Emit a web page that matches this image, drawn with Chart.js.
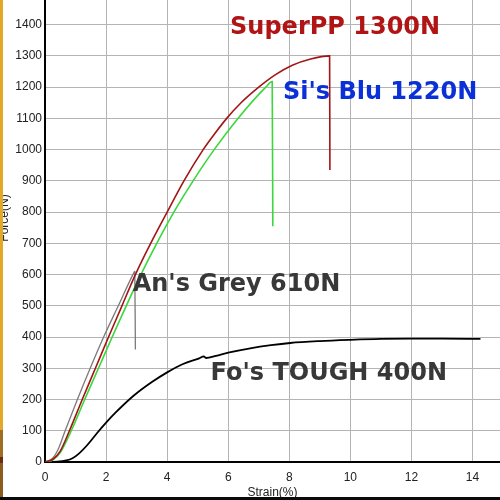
<!doctype html>
<html lang="en">
<head>
<meta charset="utf-8">
<title>Force vs Strain</title>
<script src="https://cdn.jsdelivr.net/npm/chart.js@4.4.0/dist/chart.umd.min.js"></script>
<style>
  html, body { margin: 0; padding: 0; background: #fff; overflow: hidden; }
</style>
</head>
<body>
<canvas id="chart" width="500" height="500"></canvas>
<script>
// curves: strain in %, force in N
var superStrain = [0, 0.25, 0.5, 0.8, 1.22, 1.65, 2.08, 2.52, 2.96, 3.46, 4.0, 4.55, 5.18, 5.55, 5.95, 6.42, 7.0, 7.55, 8.1, 8.7, 9.32, 9.33];
var superForce  = [0, 8, 35, 100, 200, 300, 400, 500, 600, 700, 800, 900, 1000, 1050, 1100, 1150, 1200, 1240, 1270, 1290, 1300, 935];

var bluStrain = [0, 0.25, 0.5, 0.86, 1.3, 1.75, 2.2, 2.66, 3.14, 3.66, 4.22, 4.85, 5.54, 6.32, 7.23, 7.44, 7.46];
var bluForce  = [0, 6, 30, 100, 200, 300, 400, 500, 600, 700, 800, 900, 1000, 1100, 1200, 1218, 755];

var greyStrain = [0, 0.25, 0.45, 0.66, 1.06, 1.48, 1.92, 2.4, 2.88, 2.94, 2.96];
var greyForce  = [0, 12, 45, 100, 200, 300, 400, 500, 600, 610, 360];

var toughStrain = [0, 0.4, 0.7, 0.9, 1.1, 1.4, 1.7, 2.0, 2.3, 2.9, 3.5, 4.0, 4.5, 5.05, 5.2, 5.27, 5.6, 6.0, 6.72, 7.4, 8.03, 9, 10, 11, 12, 13, 14.26];
var toughForce  = [0, 1, 5, 12, 26, 56, 92, 126, 157, 212, 256, 287, 313, 332, 338, 333, 340, 350, 364, 374, 381, 387, 391, 394, 395, 395, 394];

var strainTicks = [0, 2, 4, 6, 8, 10, 12, 14];
var forceTicks = [0, 100, 200, 300, 400, 500, 600, 700, 800, 900, 1000, 1100, 1200, 1300, 1400];

var curveNames = ["SuperPP 1300N", "Si's Blu 1220N", "An's Grey 610N", "Fo's TOUGH 400N"];
var nameColors = ['#b01414', '#0b2fd8', '#383838', '#383838'];
// where each name sits, in strain / force units (left edge, middle)
var nameAt = [[6.06, 1390], [7.79, 1182], [2.87, 567], [5.42, 284]];

function pts(xs, ys) {
    var out = [];
    for (var i = 0; i < xs.length; i++) out.push({ x: xs[i], y: ys[i] });
    return out;
}

function curve(xs, ys, color, w) {
    return {
        data: pts(xs, ys),
        borderColor: color,
        borderWidth: w,
        pointRadius: 0,
        fill: false,
        cubicInterpolationMode: 'monotone'
    };
}

// frame bits of the photo plus the axis title and the curve names
var extras = {
    id: 'extras',
    afterDatasetsDraw: function (chart) {
        var ctx = chart.ctx;
        var sx = chart.scales.x, sy = chart.scales.y;
        ctx.save();
        ctx.font = 'bold 24px "DejaVu Sans"';
        ctx.textAlign = 'left';
        ctx.textBaseline = 'middle';
        for (var i = 0; i < curveNames.length; i++) {
            ctx.fillStyle = nameColors[i];
            ctx.fillText(curveNames[i], sx.getPixelForValue(nameAt[i][0]), sy.getPixelForValue(nameAt[i][1]));
        }
        ctx.restore();
    },
    afterDraw: function (chart) {
        var ctx = chart.ctx;
        ctx.save();
        ctx.translate(5, 218);
        ctx.rotate(-Math.PI / 2);
        ctx.font = '12px "Liberation Sans"';
        ctx.fillStyle = '#222';
        ctx.textAlign = 'center';
        ctx.textBaseline = 'middle';
        ctx.fillText('Force(N)', 0, 0);
        ctx.restore();

        ctx.fillStyle = '#e2a826';
        ctx.fillRect(0, 0, 3, 430);
        ctx.fillStyle = '#a06e22';
        ctx.fillRect(0, 430, 3, 27);
        ctx.fillStyle = '#6e2a12';
        ctx.fillRect(0, 457, 3, 6);
        ctx.fillStyle = '#8c5c1e';
        ctx.fillRect(0, 463, 3, 34);
        ctx.fillStyle = '#0a0a0a';
        ctx.fillRect(0, 497, 500, 3);
    }
};

new Chart(document.getElementById('chart').getContext('2d'), {
    type: 'line',
    data: {
        datasets: [
            curve(superStrain, superForce, '#a31515', 1.6),
            curve(bluStrain, bluForce, '#3ad83a', 1.6),
            curve(greyStrain, greyForce, '#7a7a7a', 1.3),
            curve(toughStrain, toughForce, '#000000', 1.8)
        ]
    },
    options: {
        responsive: false,
        animation: false,
        layout: { padding: 0 },
        plugins: { legend: { display: false }, tooltip: { enabled: false } },
        scales: {
            x: {
                type: 'linear',
                min: 0,
                max: 14.9,
                afterBuildTicks: function (s) { s.ticks = strainTicks.map(function (v) { return { value: v }; }); },
                afterFit: function (s) { s.height = 38; s.paddingLeft = 0; s.paddingRight = 0; },
                grid: { color: '#b4b4b4', lineWidth: 1, drawTicks: false },
                border: { color: '#000', width: 2 },
                ticks: { color: '#222', font: { family: 'Liberation Sans', size: 12 }, padding: 8, maxRotation: 0,
                         callback: function (v) { return String(v); } },
                title: { display: true, text: 'Strain(%)', color: '#222', font: { family: 'Liberation Sans', size: 12 }, padding: { top: 0, bottom: 0 } }
            },
            y: {
                min: 0,
                max: 1479,
                afterBuildTicks: function (s) { s.ticks = forceTicks.map(function (v) { return { value: v }; }); },
                afterFit: function (s) { s.width = 45; s.paddingTop = 0; s.paddingBottom = 0; },
                grid: { color: '#b4b4b4', lineWidth: 1, drawTicks: false },
                border: { color: '#000', width: 2 },
                ticks: { color: '#222', font: { family: 'Liberation Sans', size: 12 }, padding: 3,
                         callback: function (v) { return String(v); } }
            }
        }
    },
    plugins: [extras]
});
</script>
</body>
</html>
